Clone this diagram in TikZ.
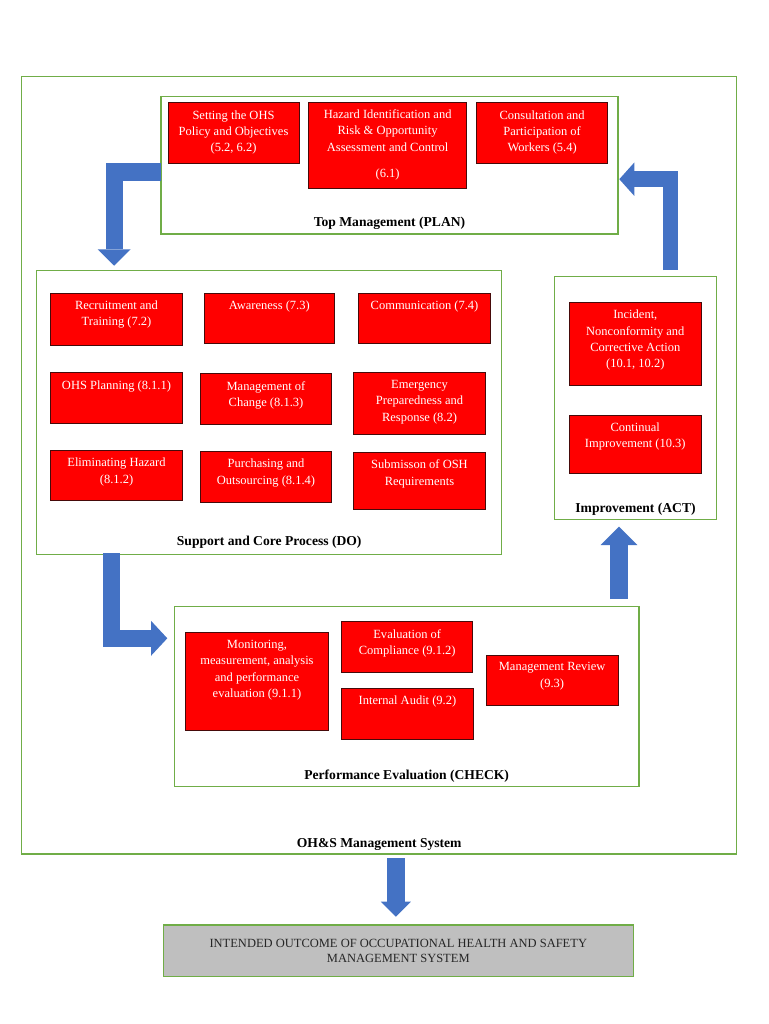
\documentclass[tikz,border=0pt]{standalone}
\usepackage{fontspec}
\setmainfont{Liberation Serif}
\usetikzlibrary{calc,arrows.meta}
\definecolor{ohsgreen}{RGB}{112,173,71}
\definecolor{ohsblue}{RGB}{68,114,196}
\definecolor{ohsred}{RGB}{255,0,0}
\definecolor{ohsedge}{RGB}{70,10,10}
\definecolor{ohsgray}{RGB}{191,191,191}
\definecolor{ohsink}{RGB}{38,38,38}
\tikzset{
	stagebox/.style={draw=ohsgreen, line width=1.2pt, anchor=north west, inner sep=0pt, outer sep=0pt},
	redbox/.style={draw=ohsedge, fill=ohsred, line width=0.9pt, anchor=north west, inner sep=0pt, outer sep=0pt},
	redtext/.style={anchor=north, align=center, inner sep=0pt, text=white, font=\fontsize{12.5}{16.4}\selectfont},
	stagetitle/.style={anchor=base, inner sep=0pt, font=\fontsize{13.6}{16}\selectfont\bfseries},
	blockflow/.style={draw=ohsblue, line join=miter},
}
\def\taskbox(#1)(#2,#3)(#4:#5)#6{%
	\node[redbox, minimum width=#4pt, minimum height=#5pt] (#1) at (#2,#3) {};
	\node[redtext] at ($(#1.north)+(0,7.5)$) {#6};}

\begin{document}
\begin{tikzpicture}[x=1pt, y=-1pt]
		%%%%% START %%%%%
		\useasboundingbox (0,0) rectangle (768,1024);
		\fill[white] (0,0) rectangle (768,1024);
		
		\node[stagebox, minimum width=715pt, minimum height=777.3pt] (sys) at (21.7,76.7) {};
		\node[stagetitle] at ($(sys.south)+(0,-6.2)$) {OH\&S Management System};
		
		% PLAN
		\node[stagebox, minimum width=457pt, minimum height=137.3pt] (plan) at (161,96.7) {};
		\node[stagetitle] at ($(plan.south)+(0,-7.8)$) {Top Management (PLAN)};
		\taskbox(setpol)(168,102.7)(131:60.6){Setting the OHS\\Policy and Objectives\\(5.2, 6.2)}
		\taskbox(hazard)(308.5,102)(158.3:86.5){Hazard Identification and\\Risk \& Opportunity\\Assessment and Control\\[10pt](6.1)}
		\taskbox(consult)(476.4,102.7)(131.5:60.6){Consultation and\\Participation of\\Workers (5.4)}
		
		% DO
		\node[stagebox, minimum width=465pt, minimum height=283.6pt] (do) at (36.7,270.7) {};
		\node[stagetitle] at ($(do.south)+(0,-8.8)$) {Support and Core Process (DO)};
		\taskbox(recruit)(50.7,293)(131.6:52){Recruitment and\\Training (7.2)}
		\taskbox(aware)(204,293)(130.7:50.7){Awareness (7.3)}
		\taskbox(comm)(358.7,293)(131.6:50.7){Communication (7.4)}
		\taskbox(ohsplan)(50.7,372.7)(131.6:51){OHS Planning (8.1.1)}
		\taskbox(change)(200.3,373.7)(131.4:51){Management of\\Change (8.1.3)}
		\taskbox(emerg)(353.7,372.7)(131.6:62){Emergency\\Preparedness and\\Response (8.2)}
		\taskbox(elim)(50.7,450.3)(131.6:50.4){Eliminating Hazard\\(8.1.2)}
		\taskbox(purch)(200.3,451.3)(131.4:50.7){Purchasing and\\Outsourcing (8.1.4)}
		\taskbox(submit)(353.7,452.3)(131.6:56.7){Submisson of OSH\\Requirements}
		
		% CHECK
		\node[stagebox, minimum width=464.7pt, minimum height=180pt] (check) at (174.3,606.7) {};
		\node[stagetitle] at ($(check.south)+(0,-7.2)$) {Performance Evaluation (CHECK)};
		\taskbox(monitor)(185.3,632.3)(143.4:98.4){Monitoring,\\measurement, analysis\\and performance\\evaluation (9.1.1)}
		\taskbox(comply)(341.7,621.7)(131:51){Evaluation of\\Compliance (9.1.2)}
		\taskbox(audit)(341.7,688.3)(131.6:50.7){Internal Audit (9.2)}
		\taskbox(review)(486.3,655)(131.7:50.7){Management Review\\(9.3)}
		
		% ACT
		\node[stagebox, minimum width=162.4pt, minimum height=242.6pt] (act) at (554.3,276.7) {};
		\node[stagetitle] at ($(act.south)+(0,-7.1)$) {Improvement (ACT)};
		\taskbox(incident)(569.3,302.3)(132:83){Incident,\\Nonconformity and\\Corrective Action\\(10.1, 10.2)}
		\taskbox(continual)(569.3,415)(132:58.3){Continual\\Improvement (10.3)}
		
		\node[stagebox, fill=ohsgray, minimum width=470pt, minimum height=51.7pt, align=center, text=ohsink, font=\fontsize{12.5}{15}\selectfont] (outcome) at (163.3,925) {INTENDED OUTCOME OF OCCUPATIONAL HEALTH AND SAFETY\\MANAGEMENT SYSTEM};
		
		% block arrows
		\draw[blockflow, line width=17.4pt, -{Triangle[width=33pt,length=16.4pt,line width=0pt]}] ($(plan.west)+(0,6.6)$) -| ($(do.north west)+(77.5,-5)$);
		\draw[blockflow, line width=16.7pt, -{Triangle[width=35pt,length=16.3pt,line width=0pt]}] ($(do.south west)+(75,-1)$) |- ($(check.north west)+(-7,31.6)$);
		\draw[blockflow, line width=18.3pt, -{Triangle[width=36.6pt,length=18.3pt,line width=0pt]}] ($(check.north west)+(444.7,-7.7)$) -- ($(act.south west)+(64.7,7.4)$);
		\draw[blockflow, line width=15.5pt, -{Triangle[width=33.4pt,length=15pt,line width=0pt]}] ($(act.north west)+(116.1,-6.7)$) |- ($(plan.east)+(1.3,13.85)$);
		\draw[blockflow, line width=18.3pt, -{Triangle[width=30pt,length=15pt,line width=0pt]}] ($(sys.south)+(16.6,4.3)$) -- ($(outcome.north)+(-2.5,-8.3)$);
		%%%%% END %%%%%
	\end{tikzpicture}
\end{document}
